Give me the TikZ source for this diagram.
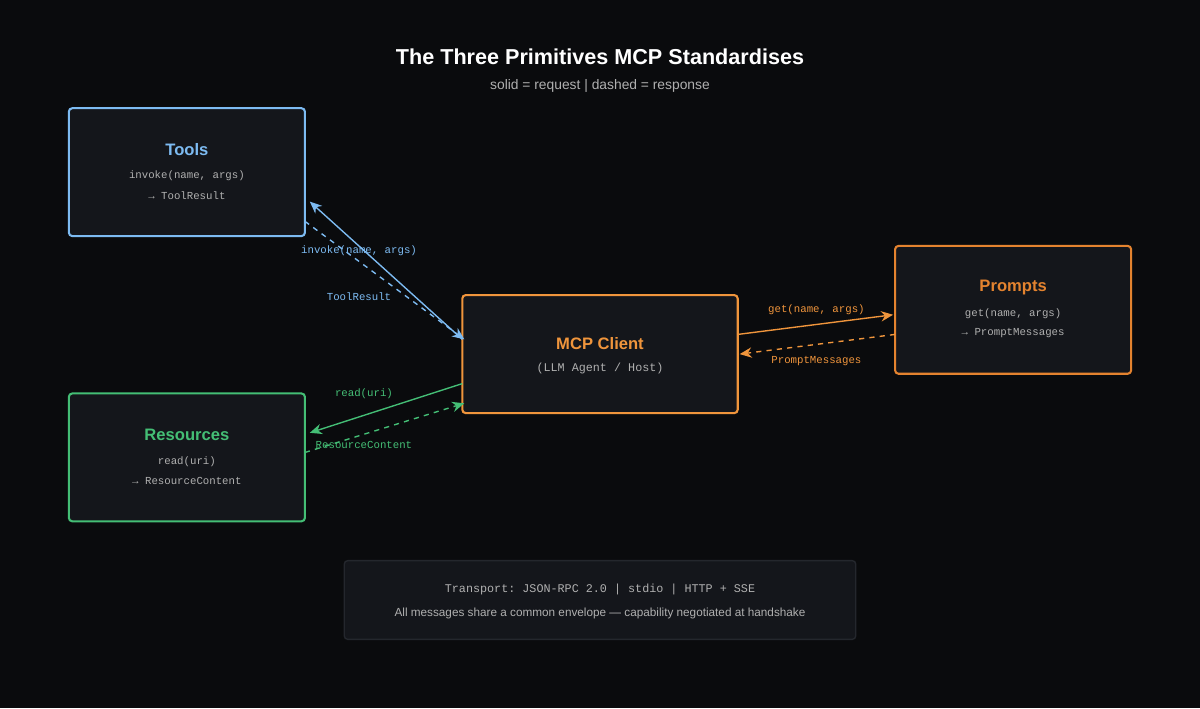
\documentclass[tikz,border=0pt]{standalone}
\usepackage{fontspec}
\setmainfont{Liberation Sans}
\setmonofont{Liberation Mono}
\usetikzlibrary{arrows.meta}
\definecolor{bg}{HTML}{0A0B0D}
\definecolor{boxbg}{HTML}{14161B}
\definecolor{footline}{HTML}{24272D}
\definecolor{toolc}{HTML}{7DBBF2}
\definecolor{resc}{HTML}{44BE75}
\definecolor{mcpc}{HTML}{F0953C}
\definecolor{promc}{HTML}{E4832F}
\definecolor{txt}{HTML}{B0B0B0}
\tikzset{
  box/.style={fill=boxbg, line width=1.2pt, rounded corners=2pt},
  boxtitle/.style={font=\fontsize{9.6}{11}\selectfont\bfseries},
  mono/.style={font=\ttfamily\fontsize{6.2}{7}\selectfont, text=txt},
  lab/.style={font=\ttfamily\fontsize{6.2}{7}\selectfont},
  req/.style={line width=0.8pt, -{Stealth[length=7pt,width=6pt]}},
  resp/.style={req, dashed},
}
\begin{document}
\begin{tikzpicture}[x=0.02cm,y=-0.02cm]
  \fill[bg] (-10,-10) rectangle (1210,710);
  \useasboundingbox (0,0) rectangle (1200,700);

  \node[text=white, font=\fontsize{12.5}{14}\selectfont\bfseries] (title) at (600,48) {The Three Primitives MCP Standardises};
  \node[text=txt, font=\fontsize{8}{10}\selectfont] (sub) at (600,77) {solid = request | dashed = response};

  % boxes
  \draw[box, draw=toolc] (60,100) rectangle (300,230);
  \node[boxtitle, text=toolc] (tools) at (180,142) {Tools};
  \node[mono] (tools1) at (180,169) {invoke(name, args)};
  \node[mono] (tools2) at (180,189) {→ ToolResult};

  \draw[box, draw=resc] (60,390) rectangle (300,520);
  \node[boxtitle, text=resc] (res) at (180,432) {Resources};
  \node[mono] (res1) at (180,459) {read(uri)};
  \node[mono] (res2) at (180,479) {→ ResourceContent};

  \draw[box, draw=mcpc] (460,290) rectangle (740,410);
  \node[boxtitle, text=mcpc] (mcp) at (600,339) {MCP Client};
  \node[mono, font=\ttfamily\fontsize{6.8}{8}\selectfont] (mcp1) at (600,365) {(LLM Agent / Host)};

  \draw[box, draw=promc] (900,240) rectangle (1140,370);
  \node[boxtitle, text=promc] (prom) at (1020,282) {Prompts};
  \node[mono] (prom1) at (1020,309) {get(name, args)};
  \node[mono] (prom2) at (1020,329) {→ PromptMessages};

  \draw[fill=boxbg, draw=footline, line width=0.8pt, rounded corners=2pt] (340,560) rectangle (860,640);
  \node[mono, font=\ttfamily\fontsize{6.8}{8}\selectfont] (foot1) at (600,589) {Transport: JSON-RPC 2.0 | stdio | HTTP + SSE};
  \node[text=txt, font=\fontsize{6.8}{9}\selectfont] (foot2) at (600,614) {All messages share a common envelope — capability negotiated at handshake};

  % connector ends
  \coordinate (mT1) at (460,335); \coordinate (tA) at (305,195);
  \coordinate (tB) at (300,215);  \coordinate (mT2) at (462,335);
  \coordinate (mR1) at (460,380); \coordinate (rA) at (305,430);
  \coordinate (rB) at (300,450);  \coordinate (mR2) at (462,400);
  \coordinate (mP1) at (740,330); \coordinate (pA) at (898,310);
  \coordinate (pB) at (900,330);  \coordinate (mP2) at (742,350);

  \draw[req, toolc] (mT1) -- (tA);
  \draw[resp, toolc] (tB) -- (mT2);
  \draw[req, resc] (mR1) -- (rA);
  \draw[resp, resc] (rB) -- (mR2);
  \draw[req, mcpc] (mP1) -- (pA);
  \draw[resp, mcpc] (pB) -- (mP2);

  \node[lab, text=toolc] (l1) at (355,245) {invoke(name, args)};
  \node[lab, text=toolc] (l2) at (355,292) {ToolResult};
  \node[lab, text=resc] (l3) at (360,390) {read(uri)};
  \node[lab, text=resc] (l4) at (360,442) {ResourceContent};
  \node[lab, text=mcpc] (l5) at (820,305) {get(name, args)};
  \node[lab, text=mcpc] (l6) at (820,357) {PromptMessages};
\end{tikzpicture}
\end{document}
